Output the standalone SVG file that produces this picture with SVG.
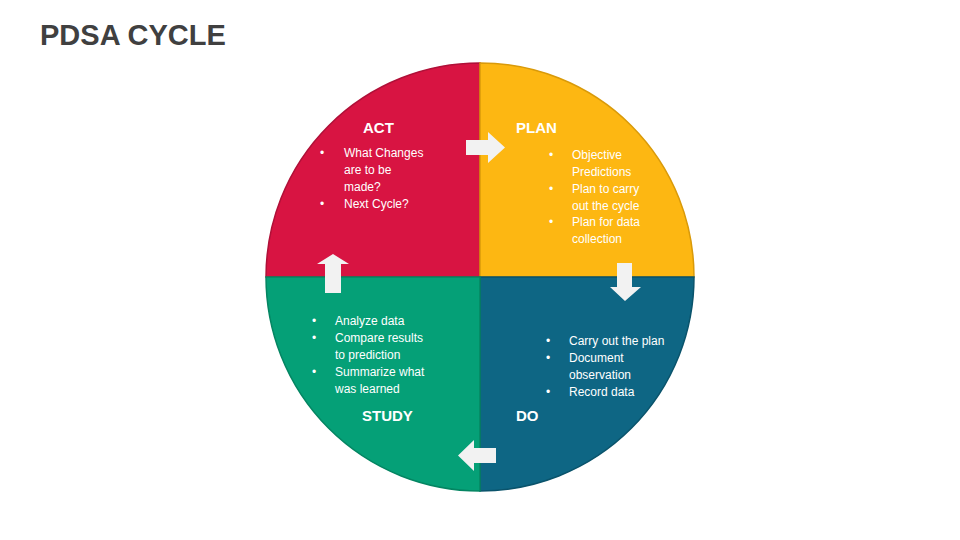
<svg xmlns="http://www.w3.org/2000/svg" width="960" height="540" viewBox="0 0 960 540">
<style>
.t{font-family:"Liberation Sans",Arial,sans-serif;fill:#fff;font-size:12px}
.h{font-family:"Liberation Sans",Arial,sans-serif;fill:#fff;font-size:15px;font-weight:bold}
.ar{fill:#f2f2f2}
</style>
<rect width="960" height="540" fill="#fff"/>
<text x="40" y="45" font-family="Liberation Sans,Arial,sans-serif" font-size="29" font-weight="bold" fill="#404040">PDSA CYCLE</text>
<g id="act"><path d="M480,277 L266,277 A214,214 0 0 1 480,63 Z" fill="#d81442" stroke="#b01038" stroke-width="1.5"/>
<text class="h" x="363" y="133">ACT</text>
<text class="t"><tspan x="320" y="157">•</tspan><tspan x="344" y="157">What Changes</tspan><tspan x="344" y="174">are to be</tspan><tspan x="344" y="191">made?</tspan><tspan x="320" y="208">•</tspan><tspan x="344" y="208">Next Cycle?</tspan></text></g>
<g id="plan"><path d="M480,277 L480,63 A214,214 0 0 1 694,277 Z" fill="#fdb712" stroke="#d99a0a" stroke-width="1.5"/>
<text class="h" x="516" y="133">PLAN</text>
<text class="t"><tspan x="549" y="159">•</tspan><tspan x="572" y="159">Objective</tspan><tspan x="572" y="176">Predictions</tspan><tspan x="549" y="193">•</tspan><tspan x="572" y="193">Plan to carry</tspan><tspan x="572" y="210">out the cycle</tspan><tspan x="549" y="226">•</tspan><tspan x="572" y="226">Plan for data</tspan><tspan x="572" y="243">collection</tspan></text></g>
<g id="do"><path d="M480,277 L694,277 A214,214 0 0 1 480,491 Z" fill="#0e6684" stroke="#0a536b" stroke-width="1.5"/>
<text class="h" x="516" y="421">DO</text>
<text class="t"><tspan x="546" y="345">•</tspan><tspan x="569" y="345">Carry out the plan</tspan><tspan x="546" y="362">•</tspan><tspan x="569" y="362">Document</tspan><tspan x="569" y="379">observation</tspan><tspan x="546" y="396">•</tspan><tspan x="569" y="396">Record data</tspan></text></g>
<g id="study"><path d="M480,277 L480,491 A214,214 0 0 1 266,277 Z" fill="#05a077" stroke="#048562" stroke-width="1.5"/>
<text class="h" x="362" y="421">STUDY</text>
<text class="t"><tspan x="312" y="325">•</tspan><tspan x="335" y="325">Analyze data</tspan><tspan x="312" y="342">•</tspan><tspan x="335" y="342">Compare results</tspan><tspan x="335" y="359">to prediction</tspan><tspan x="312" y="376">•</tspan><tspan x="335" y="376">Summarize what</tspan><tspan x="335" y="393">was learned</tspan></text></g>
<g id="connectors">
<polygon class="ar" points="466,140 488,140 488,132 505,147.5 488,163 488,155 466,155"/>
<polygon class="ar" points="617,263 632,263 632,287 641,287 625,301 610,287 617,287"/>
<polygon class="ar" points="496,448 474,448 474,440 458,455.5 474,471 474,463 496,463"/>
<polygon class="ar" points="325,293 341,293 341,264 349,264 333,254 317,264 325,264"/>
</g>
</svg>
